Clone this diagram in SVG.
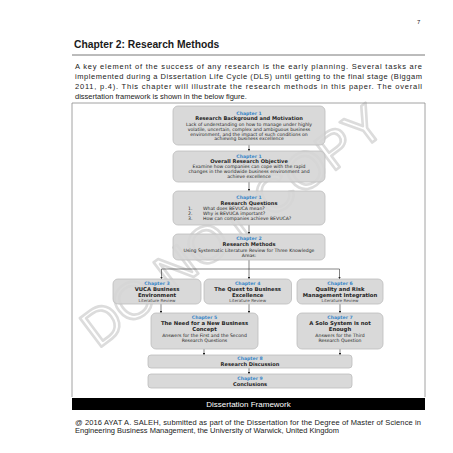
<svg xmlns="http://www.w3.org/2000/svg" width="453" height="453" viewBox="0 0 453 453">
<defs>
<style>
.pg{font-family:"Liberation Sans",Arial,sans-serif;fill:#1a1a1a}
.box{fill:#d5d5d5;fill-opacity:0.9;stroke:#bdbdbd;stroke-width:0.8}
.t{font-family:"DejaVu Sans",sans-serif;text-anchor:middle;fill:#1e1e1e}
.ch{font-family:"DejaVu Sans",sans-serif;text-anchor:middle;fill:#3a87c8;font-weight:bold;font-size:4.6px}
.h{font-weight:bold;font-size:5.1px}
.h2{font-weight:bold;font-size:5.3px}
.b{font-size:4.6px}
.s{font-size:4.2px;fill:#444}
.con line,.con path{stroke:#333;stroke-width:0.6;fill:none}
</style>
<marker id="ah" viewBox="0 0 6 6" refX="5.5" refY="3" markerWidth="4" markerHeight="4" orient="auto"><path d="M0,0L6,3L0,6z" fill="#222"/></marker>
</defs>
<rect width="453" height="453" fill="#fff"/>
<text class="pg" x="417" y="24" font-size="6">7</text>
<text class="pg" x="74" y="48" font-size="10.3" font-weight="bold">Chapter 2: Research Methods</text>
<line x1="72" y1="55" x2="425" y2="55" stroke="#555" stroke-width="0.8"/>
<g class="pg" font-size="7.5">
<text x="75" y="69" textLength="347" lengthAdjust="spacing">A key element of the success of any research is the early planning. Several tasks are</text>
<text x="75" y="79" textLength="347" lengthAdjust="spacing">implemented during a Dissertation Life Cycle (DLS) until getting to the final stage (Biggam</text>
<text x="75" y="89" textLength="347" lengthAdjust="spacing">2011, p.4). This chapter will illustrate the research methods in this paper. The overall</text>
<text x="75" y="99">dissertation framework is shown in the below figure.</text>
</g>
<text x="0" y="0" transform="translate(243,240) rotate(-37)" font-family="Liberation Sans,Arial,sans-serif" font-size="52" text-anchor="middle" fill="none" stroke="#dcdcdc" stroke-width="2.6" stroke-linejoin="round">DO NOT COPY</text>
<g id="frame">
<path d="M72,397V103H425V397" fill="none" stroke="#8a8a8a" stroke-width="0.8"/>
<rect x="72" y="398" width="353" height="12" fill="#000"/>
<text x="248.5" y="406.8" font-family="Liberation Sans,Arial,sans-serif" font-size="8" fill="#fff" text-anchor="middle">Dissertation Framework</text>
</g>
<g class="con">
<line x1="249" y1="145" x2="249" y2="151" marker-end="url(#ah)"/>
<line x1="249" y1="182" x2="249" y2="191" marker-end="url(#ah)"/>
<line x1="249" y1="225" x2="249" y2="234" marker-end="url(#ah)"/>
<path d="M249,260V269M161.5,269H339.5"/>
<line x1="161.5" y1="269" x2="161.5" y2="279" marker-end="url(#ah)"/>
<line x1="249" y1="269" x2="249" y2="279" marker-end="url(#ah)"/>
<line x1="339.5" y1="269" x2="339.5" y2="279" marker-end="url(#ah)"/>
<line x1="161" y1="304" x2="161" y2="313" marker-end="url(#ah)"/>
<line x1="249" y1="304" x2="249" y2="313" marker-end="url(#ah)"/>
<line x1="340" y1="304" x2="340" y2="313" marker-end="url(#ah)"/>
<line x1="204" y1="349" x2="204" y2="355" marker-end="url(#ah)"/>
<line x1="340" y1="349" x2="340" y2="355" marker-end="url(#ah)"/>
<line x1="249" y1="368" x2="249" y2="374" marker-end="url(#ah)"/>
</g>
<g id="n1">
<rect class="box" x="173" y="106" width="152" height="39" rx="5"/>
<text class="ch" x="249" y="114.7">Chapter 1</text>
<text class="t h" x="249" y="120">Research Background and Motivation</text>
<text class="t b" x="249" y="125.6">Lack of understanding on how to manage under highly</text>
<text class="t b" x="249" y="130.6">volatile, uncertain, complex and ambiguous business</text>
<text class="t b" x="249" y="135.6">environment, and the impact of such conditions on</text>
<text class="t b" x="249" y="140.4">achieving business excellence</text>
</g>
<g id="n2">
<rect class="box" x="173" y="151" width="152" height="31" rx="5"/>
<text class="ch" x="249" y="157.7">Chapter 1</text>
<text class="t h" x="249" y="163.1">Overall Research Objective</text>
<text class="t b" x="249" y="168">Examine how companies can cope with the rapid</text>
<text class="t b" x="249" y="173">changes in the worldwide business environment and</text>
<text class="t b" x="249" y="178.2">achieve excellence</text>
</g>
<g id="n3">
<rect class="box" x="173" y="191" width="152" height="34" rx="5"/>
<text class="ch" x="249" y="199">Chapter 1</text>
<text class="t h" x="249" y="204.8">Research Questions</text>
<g font-family="DejaVu Sans,sans-serif" font-size="4.6" fill="#1e1e1e">
<text x="188" y="210">1.</text><text x="203" y="210">What does BEVUCA mean?</text>
<text x="188" y="215.2">2.</text><text x="203" y="215.2">Why is BEVUCA important?</text>
<text x="188" y="220.4">3.</text><text x="203" y="220.4">How can companies achieve BEVUCA?</text>
</g>
</g>
<g id="n4">
<rect class="box" x="173" y="234" width="152" height="26" rx="5"/>
<text class="ch" x="249" y="240">Chapter 2</text>
<text class="t h" x="249" y="246.1">Research Methods</text>
<text class="t b" x="249" y="251.7">Using Systematic Literature Review for Three Knowledge</text>
<text class="t b" x="249" y="256.6">Areas:</text>
</g>
<g id="n5">
<rect class="box" x="113" y="279" width="88" height="25" rx="5"/>
<text class="ch" x="157" y="285">Chapter 3</text>
<text class="t h2" x="157" y="290.9">VUCA Business</text>
<text class="t h2" x="157" y="296.5">Environment</text>
<text class="t s" x="157" y="301.9">Literature Review</text>
</g>
<g id="n6">
<rect class="box" x="204" y="279" width="87.5" height="25" rx="5"/>
<text class="ch" x="247.7" y="285">Chapter 4</text>
<text class="t h2" x="247.7" y="290.9">The Quest to Business</text>
<text class="t h2" x="247.7" y="296.5">Excellence</text>
<text class="t s" x="247.7" y="301.9">Literature Review</text>
</g>
<g id="n7">
<rect class="box" x="297" y="279" width="86" height="25" rx="5"/>
<text class="ch" x="340" y="285">Chapter 6</text>
<text class="t h2" x="340" y="290.9">Quality and Risk</text>
<text class="t h2" x="340" y="296.5">Management Integration</text>
<text class="t s" x="340" y="301.9">Literature Review</text>
</g>
<g id="n8">
<rect class="box" x="151" y="313" width="107" height="36" rx="5"/>
<text class="ch" x="204.5" y="319">Chapter 5</text>
<text class="t h2" x="204.5" y="325.2">The Need for a New Business</text>
<text class="t h2" x="204.5" y="331.2">Concept</text>
<text class="t b" x="204.5" y="336.9">Answers for the First and the Second</text>
<text class="t b" x="204.5" y="342.3">Research Questions</text>
</g>
<g id="n9">
<rect class="box" x="297" y="313" width="86" height="36" rx="5"/>
<text class="ch" x="340" y="319">Chapter 7</text>
<text class="t h2" x="340" y="325.2">A Solo System is not</text>
<text class="t h2" x="340" y="331.2">Enough</text>
<text class="t b" x="340" y="336.9">Answers for the Third</text>
<text class="t b" x="340" y="342.3">Research Question</text>
</g>
<g id="n10">
<rect class="box" x="148" y="355" width="204" height="13" rx="3"/>
<text class="ch" x="250" y="360.2">Chapter 8</text>
<text class="t h" x="250" y="366.2">Research Discussion</text>
</g>
<g id="n11">
<rect class="box" x="148" y="374" width="204" height="14" rx="3"/>
<text class="ch" x="250" y="379.6">Chapter 9</text>
<text class="t h" x="250" y="385.6">Conclusions</text>
</g>
<g class="pg" font-size="7.5">
<text x="75" y="425" textLength="346" lengthAdjust="spacing">@ 2016 AYAT A. SALEH, submitted as part of the Dissertation for the Degree of Master of Science in</text>
<text x="75" y="433">Engineering Business Management, the University of Warwick, United Kingdom</text>
</g>
</svg>
